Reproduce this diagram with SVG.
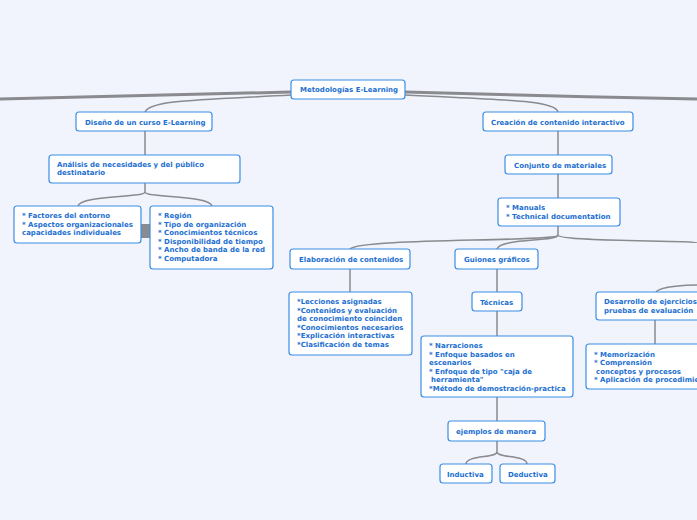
<svg xmlns="http://www.w3.org/2000/svg" width="697" height="520" viewBox="0 0 697 520">
<style>
.n rect{fill:#fff;stroke:#3a8ee6;stroke-width:1.2}
.n text{font-family:"DejaVu Sans",sans-serif;font-weight:bold;font-size:7px;fill:#1c6fd1}
.c path{fill:none;stroke:#8a8a8f;stroke-width:1.5}
.c .t{stroke-width:3}
</style>
<rect width="697" height="520" fill="#f1f4fd"/>
<g class="c">
<path class="t" d="M291 92 C200 95 100 97 0 99"/>
<path class="t" d="M405 92 C500 95 600 97 697 99"/>
<path d="M291 95 C200 100 150 100 145 112"/>
<path d="M405 95 C500 100 555 100 558 112"/>
<path d="M145 131 V155"/>
<path d="M145 183 V192 C145 198 80 195 78 206"/>
<path d="M145 192 C145 198 210 195 212 206"/>
<rect x="141" y="224" width="9" height="14" fill="#8a8a8f"/>
<path d="M558 131 V155"/>
<path d="M558 174 V198"/>
<path d="M558 226 V235 C558 242 360 238 350 249"/>
<path d="M558 235 C558 242 500 238 497 249"/>
<path d="M558 235 C558 242 697 240 697 243"/>
<path d="M350 269 V292"/>
<path d="M497 269 V292"/>
<path d="M497 311 V336"/>
<path d="M497 397 V421"/>
<path d="M497 441 V452 C497 458 466 455 466 464"/>
<path d="M497 452 C497 458 527 455 527 464"/>
<path d="M656 292 C660 286 690 285 697 285"/>
<path d="M655 320 V344"/>
</g>
<g class="n" id="root"><rect x="291" y="80" width="114" height="19" rx="3"/><text x="300" y="92">Metodologías E-Learning</text></g>
<g class="n" id="diseno"><rect x="76" y="112" width="136" height="19" rx="3"/><text x="85" y="125">Diseño de un curso E-Learning</text></g>
<g class="n" id="analisis"><rect x="49" y="155" width="191" height="28" rx="3"/><text x="57" y="167">Análisis de necesidades y del público</text><text x="57" y="175">destinatario</text></g>
<g class="n" id="factores"><rect x="14" y="206" width="127" height="37" rx="3"/><text x="22" y="218">* Factores del entorno</text><text x="22" y="227">* Aspectos organizacionales</text><text x="22" y="235">capacidades individuales</text></g>
<g class="n" id="region"><rect x="150" y="206" width="123" height="63" rx="3"/><text x="158" y="218">* Región</text><text x="158" y="227">* Tipo de organización</text><text x="158" y="235">* Conocimientos técnicos</text><text x="158" y="244">* Disponibilidad de tiempo</text><text x="158" y="252">* Ancho de banda de la red</text><text x="158" y="261">* Computadora</text></g>
<g class="n" id="creacion"><rect x="483" y="112" width="150" height="19" rx="3"/><text x="491" y="125">Creación de contenido interactivo</text></g>
<g class="n" id="conjunto"><rect x="505" y="155" width="107" height="19" rx="3"/><text x="514" y="168">Conjunto de materiales</text></g>
<g class="n" id="manuals"><rect x="498" y="198" width="122" height="28" rx="3"/><text x="506" y="210">* Manuals</text><text x="506" y="219">* Technical documentation</text></g>
<g class="n" id="elaboracion"><rect x="290" y="249" width="120" height="20" rx="3"/><text x="299" y="262">Elaboración de contenidos</text></g>
<g class="n" id="guiones"><rect x="455" y="249" width="83" height="20" rx="3"/><text x="464" y="262">Guiones gráficos</text></g>
<g class="n" id="lecciones"><rect x="289" y="292" width="123" height="63" rx="3"/><text x="297" y="304">*Lecciones asignadas</text><text x="297" y="313">*Contenidos y evaluación</text><text x="297" y="321">de conocimiento coinciden</text><text x="297" y="330">*Conocimientos necesarios</text><text x="297" y="338">*Explicación interactivas</text><text x="297" y="347">*Clasificación de temas</text></g>
<g class="n" id="tecnicas"><rect x="472" y="292" width="50" height="19" rx="3"/><text x="480" y="305">Técnicas</text></g>
<g class="n" id="narraciones"><rect x="421" y="336" width="152" height="61" rx="3"/><text x="429" y="348">* Narraciones</text><text x="429" y="357">* Enfoque basados en</text><text x="429" y="365">escenarios</text><text x="429" y="374">* Enfoque de tipo "caja de</text><text x="431" y="382">herramienta"</text><text x="429" y="391">*Método de demostración-practica</text></g>
<g class="n" id="desarrollo"><rect x="596" y="292" width="110" height="28" rx="3"/><text x="604" y="304">Desarrollo de ejercicios</text><text x="604" y="313">pruebas de evaluación</text></g>
<g class="n" id="memorizacion"><rect x="586" y="344" width="120" height="45" rx="3"/><text x="594" y="357">* Memorización</text><text x="594" y="365">* Comprensión</text><text x="596" y="374">conceptos y procesos</text><text x="594" y="382">* Aplicación de procedimie</text></g>
<g class="n" id="ejemplos"><rect x="448" y="421" width="97" height="20" rx="3"/><text x="456" y="434">ejemplos de manera</text></g>
<g class="n" id="inductiva"><rect x="440" y="464" width="52" height="19" rx="3"/><text x="447" y="477">Inductiva</text></g>
<g class="n" id="deductiva"><rect x="500" y="464" width="55" height="19" rx="3"/><text x="508" y="477">Deductiva</text></g>
</svg>
